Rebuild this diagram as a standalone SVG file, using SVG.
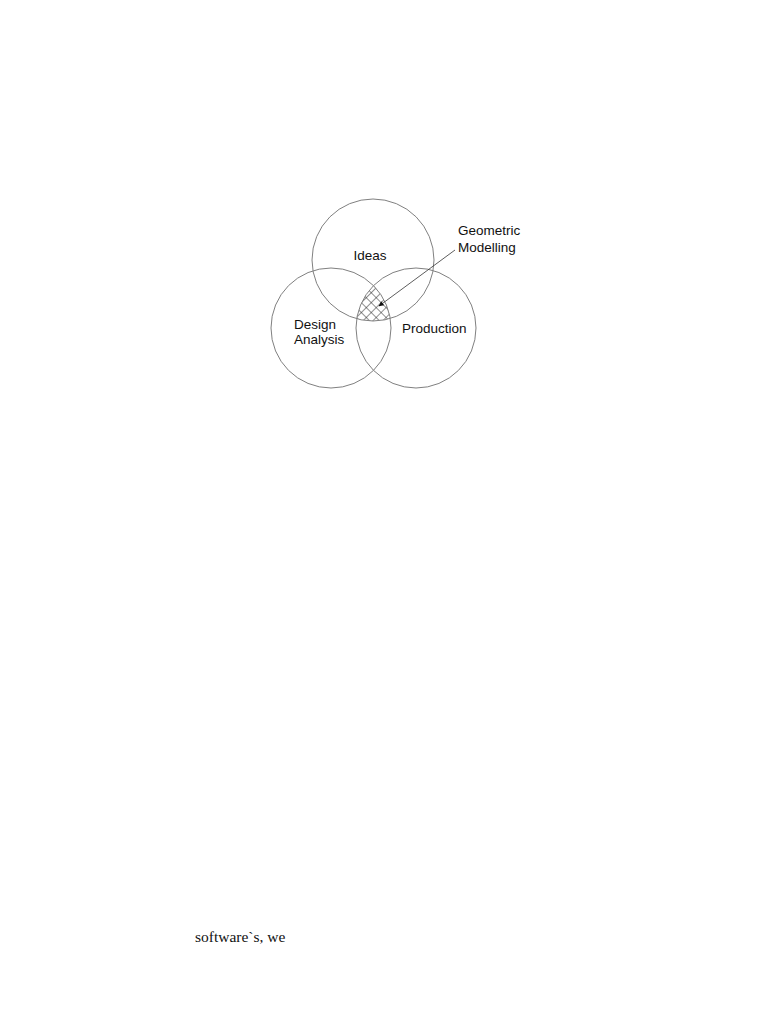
<svg xmlns="http://www.w3.org/2000/svg" width="768" height="1024" viewBox="0 0 768 1024">
<style>
.c{fill:none;stroke:#808080;stroke-width:1}
.t{font-family:"Liberation Sans",Arial,sans-serif;font-size:13.5px;fill:#111}
.s{font-family:"Liberation Serif","Times New Roman",serif;font-size:15.5px;fill:#111}
</style>
<defs>
<pattern id="hatch" width="7" height="7" patternUnits="userSpaceOnUse" patternTransform="rotate(45)">
<line x1="0" y1="0" x2="0" y2="7" stroke="#222" stroke-width="1"/>
<line x1="0" y1="0" x2="7" y2="0" stroke="#222" stroke-width="1"/>
</pattern>
<clipPath id="cA"><circle cx="331" cy="328" r="60"/></clipPath>
<clipPath id="cB"><circle cx="416" cy="328" r="60"/></clipPath>
<marker id="ah" viewBox="0 0 10 10" refX="9" refY="5" markerWidth="8" markerHeight="5" orient="auto" markerUnits="userSpaceOnUse">
<path d="M0,0 L10,5 L0,10 z" fill="#111"/>
</marker>
</defs>
<rect width="768" height="1024" fill="#fff"/>
<g id="hatch-region">
<g clip-path="url(#cA)"><g clip-path="url(#cB)"><circle cx="373" cy="260" r="61" fill="url(#hatch)"/></g></g>
</g>
<g id="ideas"><circle class="c" cx="373" cy="260" r="61"/><text class="t" x="370" y="260" text-anchor="middle">Ideas</text></g>
<g id="design-analysis"><circle class="c" cx="331" cy="328" r="60"/><text class="t" x="294" y="329">Design</text><text class="t" x="294" y="344">Analysis</text></g>
<g id="production"><circle class="c" cx="416" cy="328" r="60"/><text class="t" x="402" y="333">Production</text></g>
<g id="geometric-modelling"><text class="t" x="458" y="235">Geometric</text><text class="t" x="458" y="252">Modelling</text></g>
<g id="connectors"><line x1="455" y1="250" x2="379" y2="306" stroke="#333" stroke-width="0.8" marker-end="url(#ah)"/></g>
<text class="s" x="195" y="942">software`s, we</text>
</svg>
